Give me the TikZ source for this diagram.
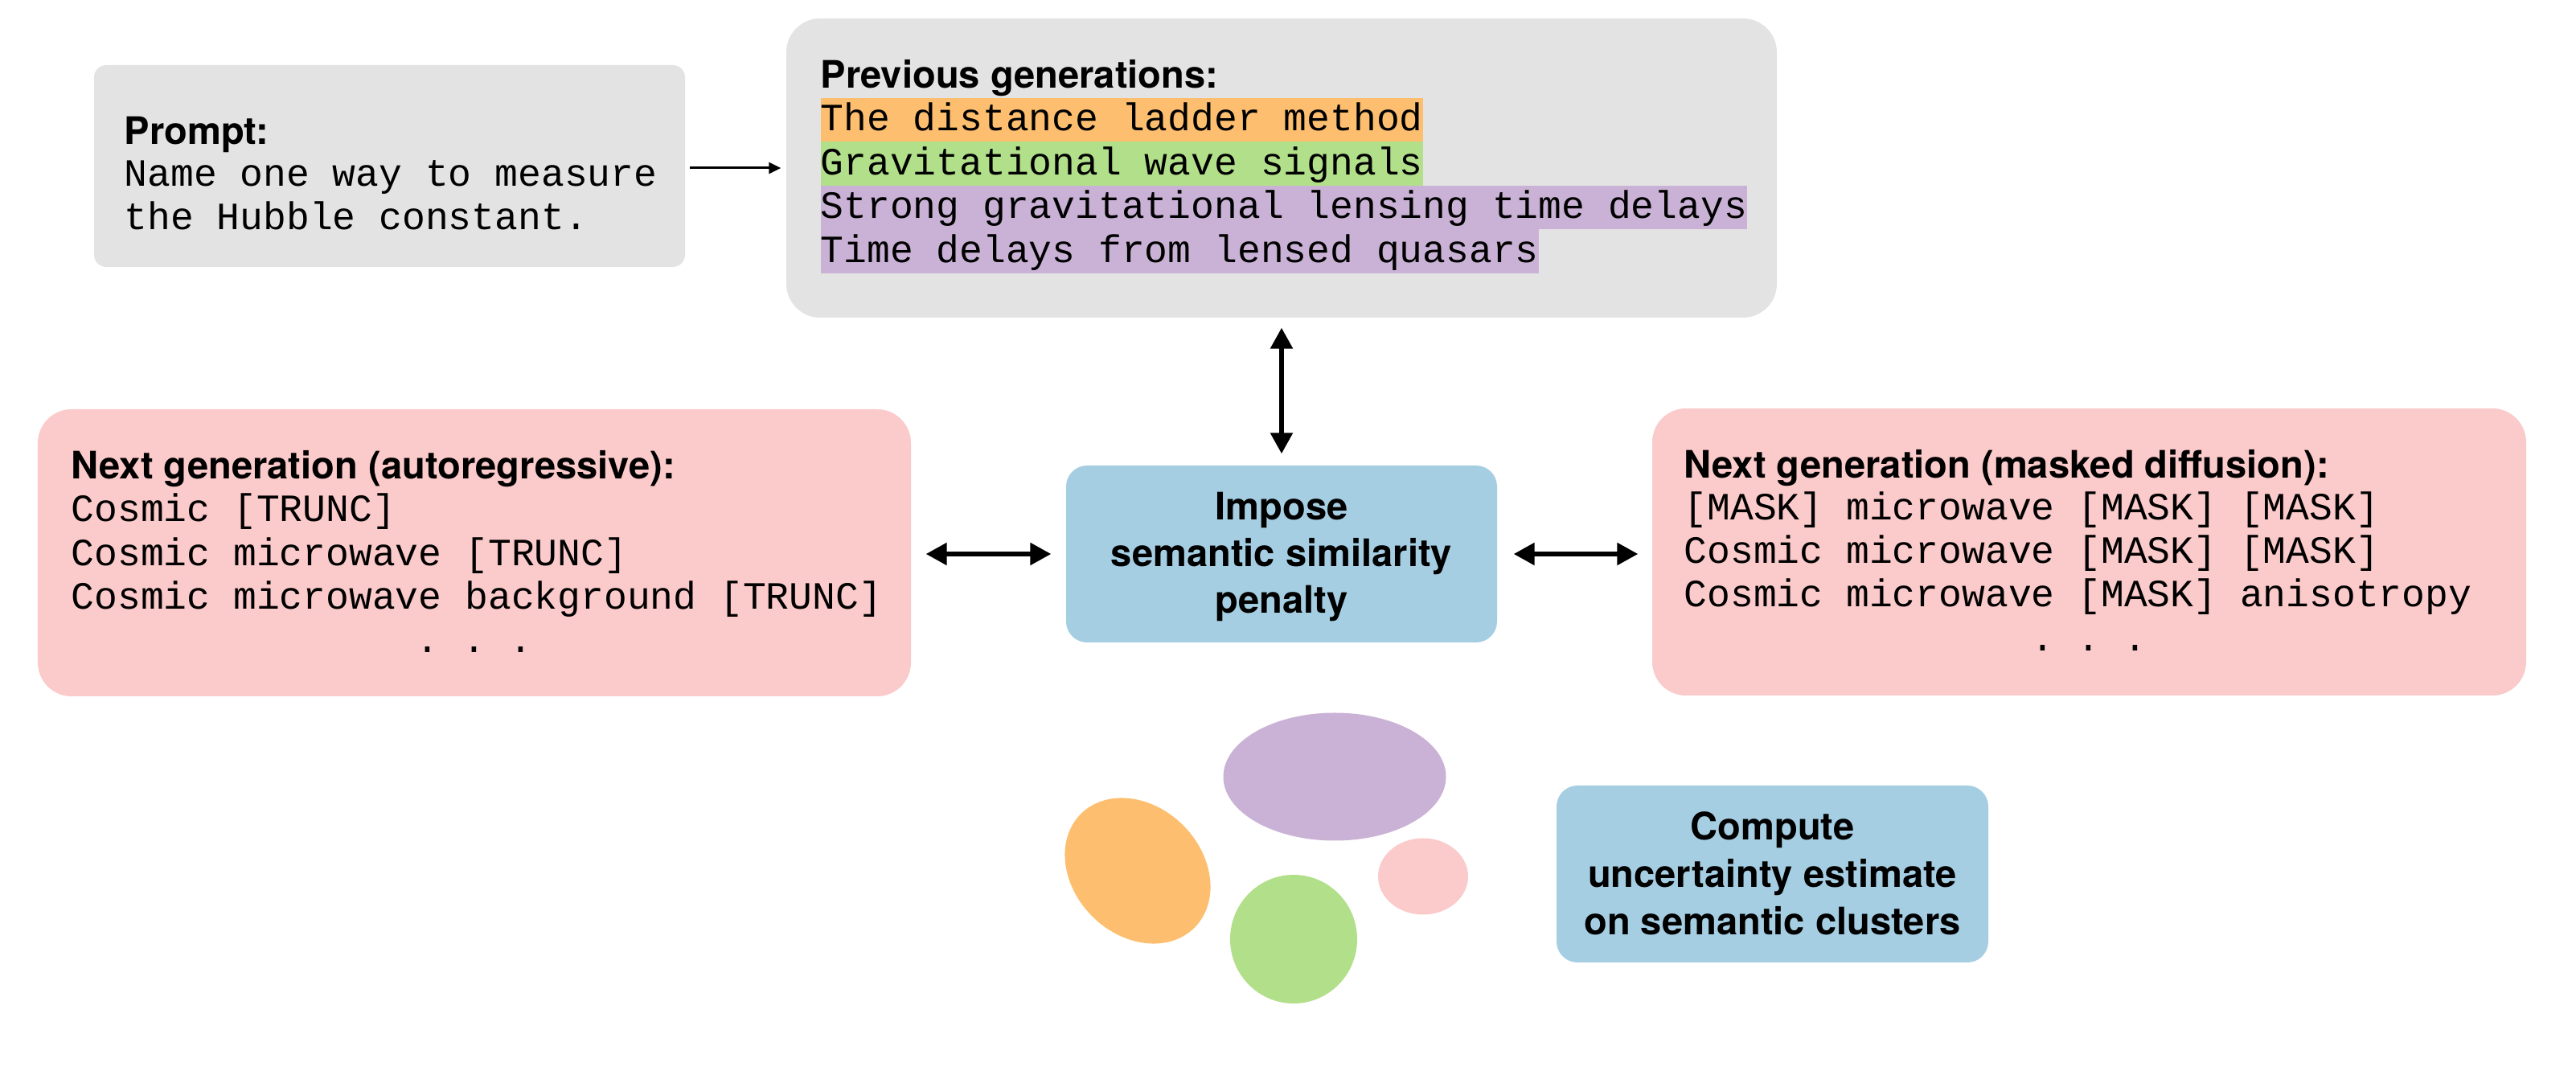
\documentclass[tikz,border=0pt]{standalone}
\usepackage{fontspec}
\setmainfont{TeX Gyre Heros}
\setmonofont{Liberation Mono}
\usetikzlibrary{arrows.meta}
\definecolor{boxgray}{HTML}{E3E3E3}
\definecolor{pnk}{HTML}{FBCACA}
\definecolor{lblue}{HTML}{A6CEE3}
\definecolor{orng}{HTML}{FDBF6F}
\definecolor{grn}{HTML}{B2DF8A}
\definecolor{purp}{HTML}{CAB2D6}
\begin{document}
\begin{tikzpicture}[
		card/.style={inner sep=0pt, rounded corners=#1},
		head/.style={font=\bfseries\fontsize{13.4}{16}\selectfont, inner sep=0pt, anchor=base west},
		mid/.style={font=\bfseries\fontsize{13.4}{16}\selectfont, inner sep=0pt, anchor=base},
		code/.style={font=\ttfamily\fontsize{13.66}{16}\selectfont, inner sep=0pt, anchor=base west},
		thinarrow/.style={-{Triangle[length=0.15cm,width=0.14cm]}, line width=0.03cm},
		bothways/.style={{Triangle[length=0.26cm,width=0.27cm]}-{Triangle[length=0.26cm,width=0.27cm]}, line width=0.055cm}
	]
		\useasboundingbox (0,0) rectangle (32.04,-13.32);
		\node[card=0.15cm, fill=boxgray, minimum width=7.35cm, minimum height=2.51cm] (prompt) at (4.845,-2.065) {};
		\node[card=0.42cm, fill=boxgray, minimum width=12.32cm, minimum height=3.72cm] (prev) at (15.94,-2.09) {};
		\node[card=0.42cm, fill=pnk, minimum width=10.86cm, minimum height=3.57cm] (ar) at (5.90,-6.875) {};
		\node[card=0.42cm, fill=pnk, minimum width=10.87cm, minimum height=3.57cm] (md) at (25.985,-6.865) {};
		\node[card=0.26cm, fill=lblue, minimum width=5.36cm, minimum height=2.20cm] (pen) at (15.94,-6.89) {};
		\node[card=0.26cm, fill=lblue, minimum width=5.37cm, minimum height=2.20cm] (unc) at (22.045,-10.87) {};

		\node[head] (prompttitle) at (1.54,-1.80) {Prompt:};
		\foreach \i/\t in {0/Name one way to measure,1/the Hubble constant.}{
			\node[code] (promptline\i) at (1.54,-2.32-\i*0.54) {\t};
		}

		\node[head] (prevtitle) at (10.20,-1.10) {Previous generations:};
		\foreach \i/\c/\t in {0/orng/The distance ladder method,1/grn/Gravitational wave signals,2/purp/Strong gravitational lensing time delays,3/purp/Time delays from lensed quasars}{
			\node[code, fill=\c, text height=0.41cm, text depth=0.135cm] (gen\i) at (10.20,-1.63-\i*0.545) {\t};
		}

		\node[head] (artitle) at (0.88,-5.96) {Next generation (autoregressive):};
		\foreach \i/\t in {0/Cosmic [TRUNC],1/Cosmic microwave [TRUNC],2/Cosmic microwave background [TRUNC]}{
			\node[code] (arline\i) at (0.88,-6.49-\i*0.545) {\t};
		}
		\node[code, anchor=base] (ardots) at (5.90,-8.12) {. . .};

		\node[head] (mdtitle) at (20.94,-5.95) {Next generation (masked diffusion):};
		\foreach \i/\t in {0/[MASK] microwave [MASK] [MASK],1/Cosmic microwave [MASK] [MASK],2/Cosmic microwave [MASK] anisotropy}{
			\node[code] (mdline\i) at (20.94,-6.47-\i*0.54) {\t};
		}
		\node[code, anchor=base] (mddots) at (25.98,-8.10) {. . .};

		\foreach \i/\t in {0/Impose,1/semantic similarity,2/penalty}{
			\node[mid] (penline\i) at (15.94,-6.47-\i*0.58) {\t};
		}
		\foreach \i/\t in {0/Compute,1/uncertainty estimate,2/on semantic clusters}{
			\node[mid] (uncline\i) at (22.045,-10.45-\i*0.59) {\t};
		}

		\draw[thinarrow, shorten <=0.05cm, shorten >=0.06cm] (prompt.east |- prev.west) -- (prev.west);
		\draw[bothways, shorten <=0.12cm, shorten >=0.14cm] (prev.south) -- (pen.north);
		\draw[bothways, shorten <=0.18cm, shorten >=0.18cm] (ar.east |- pen.west) -- (pen.west);
		\draw[bothways, shorten <=0.20cm, shorten >=0.17cm] (pen.east) -- (md.west |- pen.east);

		\fill[purp] (16.60,-9.66) ellipse [x radius=1.385, y radius=0.795];
		\fill[orng, shift={(14.15,-10.83)}, rotate=-45] (0,0) ellipse [x radius=1.0, y radius=0.8];
		\fill[grn] (16.09,-11.68) ellipse [x radius=0.79, y radius=0.80];
		\fill[pnk] (17.70,-10.90) ellipse [x radius=0.56, y radius=0.475];
	\end{tikzpicture}
\end{document}
